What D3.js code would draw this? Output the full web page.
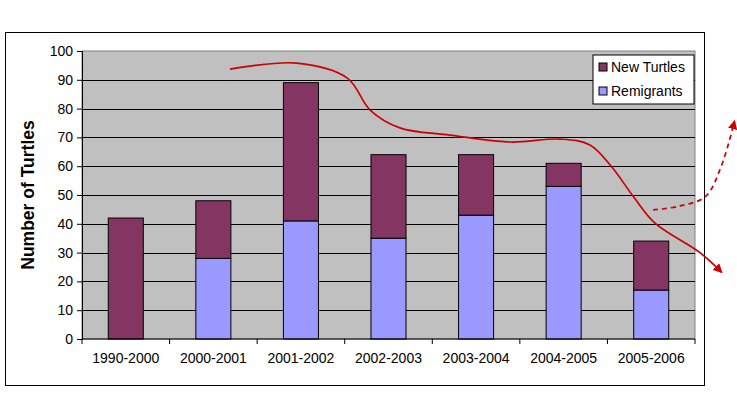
<!DOCTYPE html>
<html>
<head>
<meta charset="utf-8">
<script src="https://cdn.jsdelivr.net/npm/d3@7"></script>
<style>
  body { margin: 0; background: #fff; }
  svg { display: block; font-family: "Liberation Sans", Arial, sans-serif; }
</style>
</head>
<body>
<div id="chart"></div>
<script>
// chart data
const seasons = ["1990-2000", "2000-2001", "2001-2002", "2002-2003", "2003-2004", "2004-2005", "2005-2006"];
const remigrants = [0, 28, 41, 35, 43, 53, 17];
const newTurtles = [42, 20, 48, 29, 21, 8, 17];
const yTicks = [0, 10, 20, 30, 40, 50, 60, 70, 80, 90, 100];
const seriesNames = ["New Turtles", "Remigrants"];

// hand-drawn red annotation (category index, value)
const trendPts = [[1.19, 93.7], [1.95, 95.8], [2.53, 90.6], [2.79, 79.5], [3.13, 73.3], [3.7, 70.8],
  [4.39, 68.4], [4.96, 69.4], [5.3, 67.4], [5.55, 59.7], [5.8, 49.3], [6.04, 40.3], [6.56, 29.9], [6.8, 23.3]];
const dashPts = [[6.02, 44.8], [6.33, 46.2], [6.62, 49.5], [6.8, 60], [6.95, 75.5]];

const W = 737, H = 398;
const plot = { left: 82, right: 695, top: 51, bottom: 339 };
const colors = { "New Turtles": "#843562", "Remigrants": "#9999ff" };

const svg = d3.select("#chart").append("svg")
  .attr("width", W).attr("height", H);

svg.append("rect").attr("width", W).attr("height", H).attr("fill", "#fff");

// outer chart border
svg.append("rect")
  .attr("x", 5.5).attr("y", 32.5).attr("width", 699).attr("height", 353)
  .attr("fill", "none").attr("stroke", "#000").attr("stroke-width", 1);

const x = d3.scaleBand().domain(seasons).range([plot.left, plot.right])
  .paddingInner(0.6).paddingOuter(0.3);
const xi = d3.scaleLinear().domain([-0.5, seasons.length - 0.5]).range([plot.left, plot.right]);
const y = d3.scaleLinear().domain([0, 100]).range([plot.bottom, plot.top]);

// plot background
svg.append("rect")
  .attr("x", plot.left).attr("y", plot.top)
  .attr("width", plot.right - plot.left).attr("height", plot.bottom - plot.top)
  .attr("fill", "#c0c0c0").attr("stroke", "#808080");

// gridlines
svg.append("g").selectAll("line")
  .data(yTicks.filter(d => d > 0 && d < 100))
  .enter().append("line")
  .attr("x1", plot.left).attr("x2", plot.right)
  .attr("y1", d => Math.round(y(d)) + 0.5).attr("y2", d => Math.round(y(d)) + 0.5)
  .attr("stroke", "#000").attr("stroke-width", 1);

// stacked bars
const rows = seasons.map((s, i) => ({ season: s, "Remigrants": remigrants[i], "New Turtles": newTurtles[i] }));
const stack = d3.stack().keys(["Remigrants", "New Turtles"])(rows);

svg.append("g").selectAll("g")
  .data(stack)
  .enter().append("g")
  .attr("fill", d => colors[d.key])
  .selectAll("rect")
  .data(d => d.filter(p => p[1] - p[0] > 0))
  .enter().append("rect")
  .attr("x", d => x(d.data.season))
  .attr("y", d => y(d[1]))
  .attr("width", x.bandwidth())
  .attr("height", d => y(d[0]) - y(d[1]))
  .attr("stroke", "#000").attr("stroke-width", 1);

// y axis
const yAxis = svg.append("g")
  .attr("transform", "translate(" + plot.left + ",0)")
  .call(d3.axisLeft(y).tickValues(yTicks).tickSize(5).tickPadding(4));
yAxis.select(".domain").attr("stroke", "#000");
yAxis.selectAll("text").style("font-size", "14px").attr("fill", "#000");

// x axis, ticks between categories
const xAxis = svg.append("g")
  .attr("transform", "translate(0," + plot.bottom + ")");
xAxis.append("line").attr("x1", plot.left).attr("x2", plot.right)
  .attr("stroke", "#000");
xAxis.selectAll("line.tk")
  .data(d3.range(seasons.length + 1))
  .enter().append("line").attr("class", "tk")
  .attr("x1", d => xi(d - 0.5)).attr("x2", d => xi(d - 0.5))
  .attr("y1", 0).attr("y2", 5).attr("stroke", "#000");
xAxis.selectAll("text")
  .data(seasons)
  .enter().append("text")
  .attr("x", d => x(d) + x.bandwidth() / 2)
  .attr("y", 24)
  .attr("text-anchor", "middle")
  .style("font-size", "14px")
  .text(d => d);

// axis title
svg.append("text")
  .attr("transform", "translate(34," + ((plot.top + plot.bottom) / 2) + ") rotate(-90)")
  .attr("text-anchor", "middle")
  .style("font-size", "17.5px").style("font-weight", "bold")
  .text("Number of Turtles");

// legend
const lg = svg.append("g").attr("transform", "translate(593,55)");
lg.append("rect").attr("width", 101).attr("height", 49)
  .attr("fill", "#fff").attr("stroke", "#000");
lg.selectAll("g")
  .data(seriesNames)
  .enter().append("g")
  .attr("transform", (d, i) => "translate(6," + (12 + i * 24) + ")")
  .each(function(d) {
    const g = d3.select(this);
    g.append("rect").attr("x", 0).attr("y", -4).attr("width", 8).attr("height", 8)
      .attr("fill", colors[d]).attr("stroke", "#000");
    g.append("text").attr("x", 12).attr("y", 5)
      .style("font-size", "14px").text(d);
  });

// red annotation arrows
const defs = svg.append("defs");
defs.append("marker").attr("id", "arrow")
  .attr("viewBox", "0 0 10 10").attr("refX", 8).attr("refY", 5)
  .attr("markerWidth", 5.5).attr("markerHeight", 5.5).attr("orient", "auto")
  .attr("markerUnits", "strokeWidth")
  .append("path").attr("d", "M0,0 L10,5 L0,10 z").attr("fill", "#cc0000");

const line = d3.line()
  .x(d => xi(d[0])).y(d => y(d[1]))
  .curve(d3.curveCatmullRom.alpha(0.5));

svg.append("path")
  .attr("d", line(trendPts))
  .attr("fill", "none").attr("stroke", "#cc0000").attr("stroke-width", 1.7)
  .attr("marker-end", "url(#arrow)");

svg.append("path")
  .attr("d", line(dashPts))
  .attr("fill", "none").attr("stroke", "#cc0000").attr("stroke-width", 1.7)
  .attr("stroke-dasharray", "5,4")
  .attr("marker-end", "url(#arrow)");
</script>
</body>
</html>
